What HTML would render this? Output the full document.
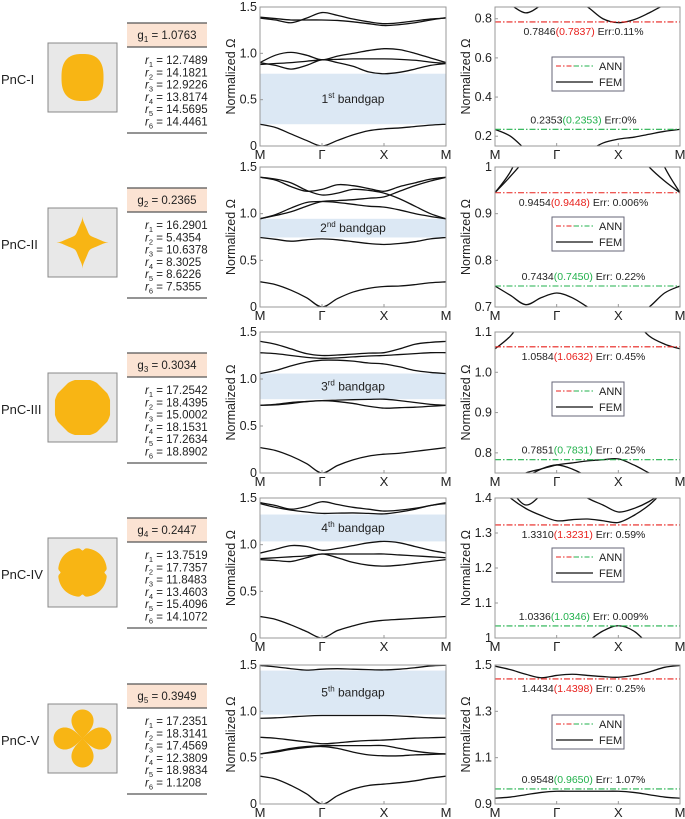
<!DOCTYPE html>
<html><head><meta charset="utf-8"><style>
html,body{margin:0;padding:0;background:#fff;width:685px;height:819px;overflow:hidden;}
svg{display:block;font-family:"Liberation Sans",Arial,sans-serif;}
</style></head><body>
<svg id="fig" width="685" height="819" viewBox="0 0 685 819" xmlns="http://www.w3.org/2000/svg"></svg>
<script>
// ---------- data ----------
const kSamples=[0,0.25,0.5,0.75,1,1.25,1.5,1.75,2,2.25,2.5,2.75,3];
const kLabels=["M","Γ","X","M"];
const names=["PnC-I","PnC-II","PnC-III","PnC-IV","PnC-V"];
const gLabels=["1.0763","0.2365","0.3034","0.2447","0.3949"];
const rVals=[
 ["12.7489","14.1821","12.9226","13.8174","14.5695","14.4461"],
 ["16.2901","5.4354","10.6378","8.3025","8.6226","7.5355"],
 ["17.2542","18.4395","15.0002","18.1531","17.2634","18.8902"],
 ["13.7519","17.7357","11.8483","13.4603","15.4096","14.1072"],
 ["17.2351","18.3141","17.4569","12.3809","18.9834","1.1208"]];
const bands1=[
 [.235,.2,.13,.06,0,.06,.12,.165,.185,.195,.21,.225,.235],
 [.9,.87,.83,.87,.93,.9,.86,.8,.78,.795,.83,.87,.89],
 [.9,.98,1.01,.98,.93,.97,1.0,1.03,1.05,1.04,1.0,.95,.9],
 [.88,.89,.9,.915,.93,.935,.94,.94,.94,.935,.925,.905,.89],
 [1.38,1.36,1.33,1.38,1.44,1.41,1.37,1.34,1.32,1.33,1.35,1.37,1.38],
 [1.39,1.375,1.36,1.36,1.36,1.355,1.34,1.32,1.30,1.31,1.33,1.36,1.385]];
const bands2=[
 [.27,.24,.18,.1,0,.09,.16,.2,.22,.225,.24,.26,.27],
 [.745,.725,.705,.72,.73,.72,.7,.68,.67,.68,.7,.73,.745],
 [.945,.99,1.06,1.12,1.13,1.12,1.1,1.08,1.07,1.04,1.0,.97,.945],
 [.945,.98,1.02,1.08,1.13,1.14,1.15,1.165,1.18,1.24,1.30,1.35,1.39],
 [1.39,1.36,1.29,1.24,1.26,1.31,1.3,1.27,1.24,1.29,1.33,1.37,1.39],
 [1.39,1.37,1.33,1.25,1.2,1.22,1.26,1.25,1.22,1.16,1.08,1.0,.945]];
const bands3=[
 [.27,.24,.18,.1,0,.08,.14,.18,.2,.21,.23,.25,.27],
 [.72,.725,.74,.76,.77,.76,.74,.71,.69,.695,.70,.71,.72],
 [.72,.73,.75,.76,.77,.775,.78,.783,.785,.77,.75,.73,.72],
 [1.058,1.09,1.14,1.18,1.2,1.2,1.19,1.17,1.16,1.13,1.09,1.07,1.058],
 [1.28,1.27,1.25,1.23,1.22,1.225,1.235,1.245,1.25,1.26,1.27,1.28,1.28],
 [1.4,1.37,1.32,1.27,1.25,1.255,1.265,1.275,1.28,1.32,1.37,1.39,1.4]];
const bands4=[
 [.23,.2,.14,.07,0,.08,.13,.17,.19,.2,.21,.22,.23],
 [.84,.83,.82,.86,.9,.86,.81,.78,.77,.78,.8,.82,.84],
 [.85,.86,.87,.88,.9,.9,.9,.9,.9,.89,.88,.87,.86],
 [.91,.95,.99,.98,.94,.96,.99,1.02,1.035,1.02,.98,.94,.91],
 [1.44,1.4,1.37,1.35,1.335,1.338,1.34,1.335,1.33,1.35,1.38,1.42,1.44],
 [1.45,1.42,1.38,1.41,1.46,1.43,1.4,1.38,1.36,1.37,1.39,1.42,1.45]];
const bands5=[
 [.3,.27,.2,.11,0,.09,.16,.2,.215,.23,.25,.28,.3],
 [.54,.56,.59,.61,.62,.6,.56,.53,.52,.52,.53,.535,.54],
 [.54,.57,.6,.62,.63,.63,.63,.63,.63,.6,.57,.55,.54],
 [.72,.71,.69,.67,.65,.66,.675,.685,.69,.7,.71,.715,.72],
 [.925,.93,.94,.95,.955,.955,.955,.955,.955,.95,.94,.93,.925],
 [1.495,1.48,1.46,1.445,1.455,1.46,1.455,1.45,1.447,1.455,1.47,1.49,1.498]];
const allBands=[bands1,bands2,bands3,bands4,bands5];
const gapLow=[0.235,0.745,0.785,1.035,0.965];
const gapHigh=[0.78,0.945,1.058,1.323,1.44];
const gapOrd=["st","nd","rd","th","th"];
const midTicks=[0,0.5,1.0,1.5];
const midTickLabels=["0","0.5","1.0","1.5"];
const rMin=[0.15,0.7,0.75,1.0,0.9];
const rMax=[0.86,1.0,1.1,1.4,1.5];
const rTicks=[[0.2,0.4,0.6,0.8],[0.7,0.8,0.9,1.0],[0.8,0.9,1.0,1.1],[1.0,1.1,1.2,1.3,1.4],[0.9,1.1,1.3,1.5]];
const rTickLabels=[["0.2","0.4","0.6","0.8"],["0.7","0.8","0.9","1"],["0.8","0.9","1.0","1.1"],["1","1.1","1.2","1.3","1.4"],["0.9","1.1","1.3","1.5"]];
const annHigh=[0.7837,0.9448,1.0632,1.3231,1.4398];
const femHighTxt=["0.7846","0.9454","1.0584","1.3310","1.4434"];
const annHighTxt=["0.7837","0.9448","1.0632","1.3231","1.4398"];
const errHighTxt=[" Err:0.11%","  Err: 0.006%","  Err: 0.45%","  Err: 0.59%","  Err: 0.25%"];
const annLow=[0.2353,0.7450,0.7831,1.0346,0.9650];
const femLowTxt=["0.2353","0.7434","0.7851","1.0336","0.9548"];
const annLowTxt=["0.2353","0.7450","0.7831","1.0346","0.9650"];
const errLowTxt=[" Err:0%","  Err: 0.22%","  Err: 0.25%","  Err: 0.009%","  Err: 1.07%"];

// ---------- layout ----------
const rowTop=[7,167,332,498,665];
const rowH=[139,140,141,140,139];
const tableTop=[23,188,353,518,684];
const MX=260,MW=186,RX=495,RW=185;
const NS="http://www.w3.org/2000/svg";
const svg=document.getElementById('fig');
function mk(tag,attrs,parent){const e=document.createElementNS(NS,tag);for(const k in attrs)e.setAttribute(k,attrs[k]);(parent||svg).appendChild(e);return e;}
function curve(pts){let d="M"+pts[0][0].toFixed(2)+","+pts[0][1].toFixed(2);
 for(let i=0;i<pts.length-1;i++){const p0=pts[Math.max(0,i-1)],p1=pts[i],p2=pts[i+1],p3=pts[Math.min(pts.length-1,i+2)];
  const c1=[p1[0]+(p2[0]-p0[0])/6,p1[1]+(p2[1]-p0[1])/6],c2=[p2[0]-(p3[0]-p1[0])/6,p2[1]-(p3[1]-p1[1])/6];
  d+="C"+c1[0].toFixed(2)+","+c1[1].toFixed(2)+" "+c2[0].toFixed(2)+","+c2[1].toFixed(2)+" "+p2[0].toFixed(2)+","+p2[1].toFixed(2);}
 return d;}
function polarPath(cx,cy,rf){let d="";for(let i=0;i<=720;i++){const t=i*Math.PI/360;const r=rf(t);d+=(i?"L":"M")+(cx+r[0]*Math.cos(t)).toFixed(2)+","+(cy-r[1]*Math.sin(t)).toFixed(2);}return d+"Z";}
const shapeFns=[
 t=>{const n=2.6;const r=1/Math.pow(Math.pow(Math.abs(Math.cos(t)),n)+Math.pow(Math.abs(Math.sin(t)),n),1/n);return [21*r,23.5*r];},
 t=>{const r=26*(1-0.6*Math.sqrt(Math.abs(Math.sin(2*t))));return [r,r];},
 t=>{const seg=Math.PI/4;let u=((t-Math.PI/8)%seg+seg)%seg-seg/2;const r=Math.min(29/Math.cos(u)*0.95,28.5);return [r,r];},
 t=>{const r=24.5-2.5*Math.pow(Math.abs(Math.cos(2*t)),60)+0.8*Math.pow(Math.abs(Math.sin(2*t)),2);return [r,r];},
 t=>{const c=Math.abs(Math.cos(2*t));const r=29*Math.pow(c,0.4);return [r,r];} ];

const defs=mk('defs',{});
for(let i=0;i<5;i++){
 const top=rowTop[i],H=rowH[i],bot=top+H;
 let e=mk('text',{x:1,y:tableTop[i]+61,'font-size':13,fill:'#222'});e.textContent=names[i];
 
 const sy=tableTop[i]+20;
 e=mk('rect',{x:48,y:sy,width:69,height:69,fill:'#e8e8e8',stroke:'#888','stroke-width':1});
 
 e=mk('path',{d:polarPath(82.5,sy+34.5,shapeFns[i]),fill:'#f8b514'});
 
 const tt=tableTop[i];
 e=mk('rect',{x:127,y:tt,width:80,height:24,fill:'#fbe3d3'});
 
 mk('line',{x1:127,x2:207,y1:tt,y2:tt,stroke:'#555','stroke-width':1.2});
 mk('line',{x1:127,x2:207,y1:tt+24,y2:tt+24,stroke:'#555','stroke-width':1.2});
 mk('line',{x1:127,x2:207,y1:tt+110,y2:tt+110,stroke:'#555','stroke-width':1.2});
 e=mk('text',{x:167,y:tt+16,'font-size':11.5,'text-anchor':'middle',fill:'#222'});
 e.innerHTML='g<tspan font-size="8" dy="3">'+(i+1)+'</tspan><tspan dy="-3"> = '+gLabels[i]+'</tspan>';
 
 for(let j=0;j<6;j++){
  e=mk('text',{x:145,y:tt+41+j*12.3,'font-size':11.5,fill:'#222'});
  e.innerHTML='<tspan font-style="italic">r</tspan><tspan font-size="7.5" dy="3">'+(j+1)+'</tspan><tspan dy="-3"> = '+rVals[i][j]+'</tspan>';
  
 }
 // ---- middle plot ----
 const xm=k=>MX+k/3*MW, ym=v=>bot-v/1.5*H;
 const cpM=mk('clipPath',{id:'cm'+i},defs);mk('rect',{x:MX,y:top,width:MW,height:H},cpM);
 e=mk('rect',{x:MX,y:ym(gapHigh[i]),width:MW,height:ym(gapLow[i])-ym(gapHigh[i]),fill:'#dce8f4'});
 
 e=mk('text',{x:MX+MW/2,y:(ym(gapHigh[i])+ym(gapLow[i]))/2+4,'font-size':12,'text-anchor':'middle',fill:'#222'});
 e.innerHTML=(i+1)+'<tspan font-size="8" dy="-5">'+gapOrd[i]+'</tspan><tspan dy="5"> bandgap</tspan>';
 
 const gM=mk('g',{'clip-path':'url(#cm'+i+')'});
 allBands[i].forEach(b=>{const p=mk('path',{d:curve(b.map((v,j)=>[xm(kSamples[j]),ym(v)])),fill:'none',stroke:'#111','stroke-width':1.3},gM);
  });
 e=mk('rect',{x:MX,y:top,width:MW,height:H,fill:'none',stroke:'#999','stroke-width':1});
 
 midTicks.forEach((v,j)=>{const y=ym(v);mk('line',{x1:MX,x2:MX+3,y1:y,y2:y,stroke:'#999'});
  const t=mk('text',{x:MX-3,y:y+4,'font-size':12.5,'text-anchor':'end',fill:'#222'});t.textContent=midTickLabels[j];
  });
 e=mk('text',{transform:`translate(${MX-25},${top+H/2}) rotate(-90)`,'font-size':12.5,'text-anchor':'middle',fill:'#222'});
 e.textContent='Normalized Ω';
 // ---- right plot ----
 const xr=k=>RX+k/3*RW, yr=v=>bot-(v-rMin[i])/(rMax[i]-rMin[i])*H;
 const cpR=mk('clipPath',{id:'cr'+i},defs);mk('rect',{x:RX,y:top,width:RW,height:H},cpR);
 const gR=mk('g',{'clip-path':'url(#cr'+i+')'});
 allBands[i].forEach(b=>{const p=mk('path',{d:curve(b.map((v,j)=>[xr(kSamples[j]),yr(v)])),fill:'none',stroke:'#111','stroke-width':1.3},gR);
  });
 e=mk('line',{x1:RX,x2:RX+RW,y1:yr(annHigh[i]),y2:yr(annHigh[i]),stroke:'#e8201c','stroke-width':1.1,'stroke-dasharray':'6,2,1.5,2'});
 
 e=mk('line',{x1:RX,x2:RX+RW,y1:yr(annLow[i]),y2:yr(annLow[i]),stroke:'#22b14c','stroke-width':1.1,'stroke-dasharray':'6,2,1.5,2'});
 
 e=mk('text',{x:RX+RW/2-4,y:yr(annHigh[i])+13,'font-size':10.5,'text-anchor':'middle',fill:'#222','xml:space':'preserve'});
 e.innerHTML=femHighTxt[i]+'<tspan fill="#e8201c">('+annHighTxt[i]+')</tspan>'+errHighTxt[i];
 
 e=mk('text',{x:RX+RW/2-4,y:yr(annLow[i])-6,'font-size':10.5,'text-anchor':'middle',fill:'#222','xml:space':'preserve'});
 e.innerHTML=femLowTxt[i]+'<tspan fill="#22b14c">('+annLowTxt[i]+')</tspan>'+errLowTxt[i];
 
 e=mk('rect',{x:RX,y:top,width:RW,height:H,fill:'none',stroke:'#999','stroke-width':1});
 
 rTicks[i].forEach((v,j)=>{const y=yr(v);mk('line',{x1:RX,x2:RX+3,y1:y,y2:y,stroke:'#999'});
  const t=mk('text',{x:RX-3,y:y+4,'font-size':12.5,'text-anchor':'end',fill:'#222'});t.textContent=rTickLabels[i][j];
  });
 e=mk('text',{transform:`translate(${RX-25},${top+H/2}) rotate(-90)`,'font-size':12.5,'text-anchor':'middle',fill:'#222'});
 e.textContent='Normalized Ω';
 const ly=top+50;
 e=mk('rect',{x:552,y:ly,width:72,height:34,fill:'#fff',stroke:'#667','stroke-width':1});
 
 mk('line',{x1:556,x2:574,y1:ly+9,y2:ly+9,stroke:'#e8201c','stroke-width':1.1,'stroke-dasharray':'5,2,1.5,2'});
 mk('line',{x1:574,x2:593,y1:ly+9,y2:ly+9,stroke:'#22b14c','stroke-width':1.1,'stroke-dasharray':'5,2,1.5,2'});
 e=mk('text',{x:599,y:ly+13,'font-size':11,fill:'#222'});e.textContent='ANN';
 
 mk('line',{x1:556,x2:593,y1:ly+25,y2:ly+25,stroke:'#111','stroke-width':1.3});
 e=mk('text',{x:599,y:ly+29,'font-size':11,fill:'#222'});e.textContent='FEM';
 
 [xm,xr].forEach(fx=>{kLabels.forEach((l,j)=>{const x=fx(j);
  if(j>0&&j<3)mk('line',{x1:x,x2:x,y1:bot,y2:bot-3,stroke:'#999'});
  const t=mk('text',{x:x,y:bot+13,'font-size':13,'text-anchor':'middle',fill:'#222'});t.textContent=l;
  });});
}
</script>
</body></html>
